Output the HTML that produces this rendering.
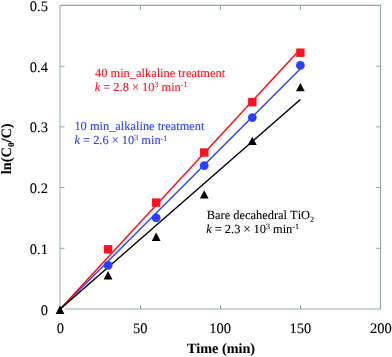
<!DOCTYPE html>
<html><head><meta charset="utf-8">
<style>
html,body{margin:0;padding:0;background:#fff;width:392px;height:357px;overflow:hidden}
svg{display:block;filter:opacity(0.999);text-rendering:geometricPrecision}
text{font-family:"Liberation Serif",serif;font-kerning:none;white-space:pre}
</style></head><body>
<svg width="392" height="357" viewBox="0 0 392 357">
<path d="M60 5.3H381M380.5 4.8V309" stroke="#8daba2" stroke-width="1.15" fill="none"/>
<path d="M60 5V309.5M65 309H381" stroke="#95adad" stroke-width="1" fill="none"/>
<path d="M140.50 309V305M140.50 5.5V10 M220.50 309V305M220.50 5.5V10 M300.50 309V305M300.50 5.5V10 M60 248.30H64.5M380.5 248.30H376 M60 187.60H64.5M380.5 187.60H376 M60 126.90H64.5M380.5 126.90H376 M60 66.20H64.5M380.5 66.20H376" stroke="#8daba2" stroke-width="1" fill="none"/>
<text fill="#000" stroke="#000" stroke-width="0.1"><tspan x="29.77" y="11.00" font-size="14.5">0.5</tspan></text>
<text fill="#000" stroke="#000" stroke-width="0.1"><tspan x="29.77" y="71.70" font-size="14.5">0.4</tspan></text>
<text fill="#000" stroke="#000" stroke-width="0.1"><tspan x="29.77" y="132.40" font-size="14.5">0.3</tspan></text>
<text fill="#000" stroke="#000" stroke-width="0.1"><tspan x="29.77" y="193.10" font-size="14.5">0.2</tspan></text>
<text fill="#000" stroke="#000" stroke-width="0.1"><tspan x="29.77" y="253.80" font-size="14.5">0.1</tspan></text>
<text fill="#000" stroke="#000" stroke-width="0.1"><tspan x="40.65" y="314.50" font-size="14.5">0</tspan></text>
<text fill="#000" stroke="#000" stroke-width="0.1"><tspan x="56.67" y="332.50" font-size="14.5">0</tspan></text>
<text fill="#000" stroke="#000" stroke-width="0.1"><tspan x="133.03" y="332.50" font-size="14.5">50</tspan></text>
<text fill="#000" stroke="#000" stroke-width="0.1"><tspan x="209.31" y="332.50" font-size="14.5">100</tspan></text>
<text fill="#000" stroke="#000" stroke-width="0.1"><tspan x="289.44" y="332.50" font-size="14.5">150</tspan></text>
<text fill="#000" stroke="#000" stroke-width="0.1"><tspan x="369.88" y="332.50" font-size="14.5">200</tspan></text>
<text fill="#000" stroke="#000" stroke-width="0.1"><tspan x="186.89" y="352.90" font-size="14.2" font-weight="bold">Time (min)</tspan></text>
<text fill="#000" stroke="#000" stroke-width="0.1" transform="translate(11.4,149.0) rotate(-90)"><tspan x="-25.27" y="0.00" font-size="14.4" font-weight="bold">ln(C</tspan><tspan x="1.93" y="3.00" font-size="9" font-weight="bold">0</tspan><tspan x="6.43" y="0.00" font-size="14.4" font-weight="bold">/C)</tspan></text>
<line x1="60.0" y1="309.3" x2="300.38" y2="68.68" stroke="#2a44ff" stroke-width="1.45"/>
<line x1="60.0" y1="309.3" x2="300.38" y2="48.97" stroke="#ff0a14" stroke-width="1.45"/>
<line x1="60.0" y1="309.3" x2="300.38" y2="99.45" stroke="#000" stroke-width="1.45"/>
<rect x="103.88" y="245.10" width="8.4" height="8.4" fill="#ff1020"/>
<rect x="151.95" y="198.40" width="8.4" height="8.4" fill="#ff1020"/>
<rect x="200.03" y="148.30" width="8.4" height="8.4" fill="#ff1020"/>
<rect x="248.10" y="98.00" width="8.4" height="8.4" fill="#ff1020"/>
<rect x="296.18" y="48.50" width="8.4" height="8.4" fill="#ff1020"/>
<circle cx="108.08" cy="265.30" r="4.4" fill="#2a40ff"/>
<circle cx="156.15" cy="217.90" r="4.4" fill="#2a40ff"/>
<circle cx="204.22" cy="165.70" r="4.4" fill="#2a40ff"/>
<circle cx="252.30" cy="117.60" r="4.4" fill="#2a40ff"/>
<circle cx="300.38" cy="65.40" r="4.4" fill="#2a40ff"/>
<path d="M60.00 305.60L64.40 314.00H55.60Z M108.08 271.10L112.48 279.50H103.67Z M156.15 232.60L160.55 241.00H151.75Z M204.22 190.20L208.62 198.60H199.82Z M252.30 136.70L256.70 145.10H247.90Z M300.38 82.90L304.77 91.30H295.98Z" fill="#000"/>
<text fill="#ff1020" stroke="#ff1020" stroke-width="0.1"><tspan x="95.06" y="76.50" font-size="12.4">40 min_alkaline treatment</tspan></text>
<text fill="#ff1020" stroke="#ff1020" stroke-width="0.1"><tspan x="94.64" y="90.50" font-size="12.4" font-style="italic">k</tspan><tspan x="103.25" y="90.50" font-size="12.4">= 2.8 × 10</tspan><tspan x="154.43" y="86.50" font-size="8">3</tspan><tspan x="161.53" y="90.50" font-size="12.4">min</tspan><tspan x="180.82" y="86.70" font-size="8">-1</tspan></text>
<text fill="#2a40ff" stroke="#2a40ff" stroke-width="0.1"><tspan x="74.41" y="130.10" font-size="12.4">10 min_alkaline treatment</tspan></text>
<text fill="#2a40ff" stroke="#2a40ff" stroke-width="0.1"><tspan x="74.44" y="144.30" font-size="12.4" font-style="italic">k</tspan><tspan x="83.05" y="144.30" font-size="12.4">= 2.6 × 10</tspan><tspan x="134.23" y="140.30" font-size="8">3</tspan><tspan x="141.33" y="144.30" font-size="12.4">min</tspan><tspan x="160.62" y="140.50" font-size="8">-1</tspan></text>
<text fill="#000" stroke="#000" stroke-width="0.1"><tspan x="206.84" y="219.00" font-size="12.4">Bare decahedral TiO</tspan><tspan x="310.12" y="222.00" font-size="8">2</tspan></text>
<text fill="#000" stroke="#000" stroke-width="0.1"><tspan x="206.14" y="233.10" font-size="12.4" font-style="italic">k</tspan><tspan x="214.75" y="233.10" font-size="12.4">= 2.3 × 10</tspan><tspan x="265.93" y="229.10" font-size="8">3</tspan><tspan x="273.03" y="233.10" font-size="12.4">min</tspan><tspan x="292.32" y="229.30" font-size="8">-1</tspan></text>
</svg>
</body></html>
